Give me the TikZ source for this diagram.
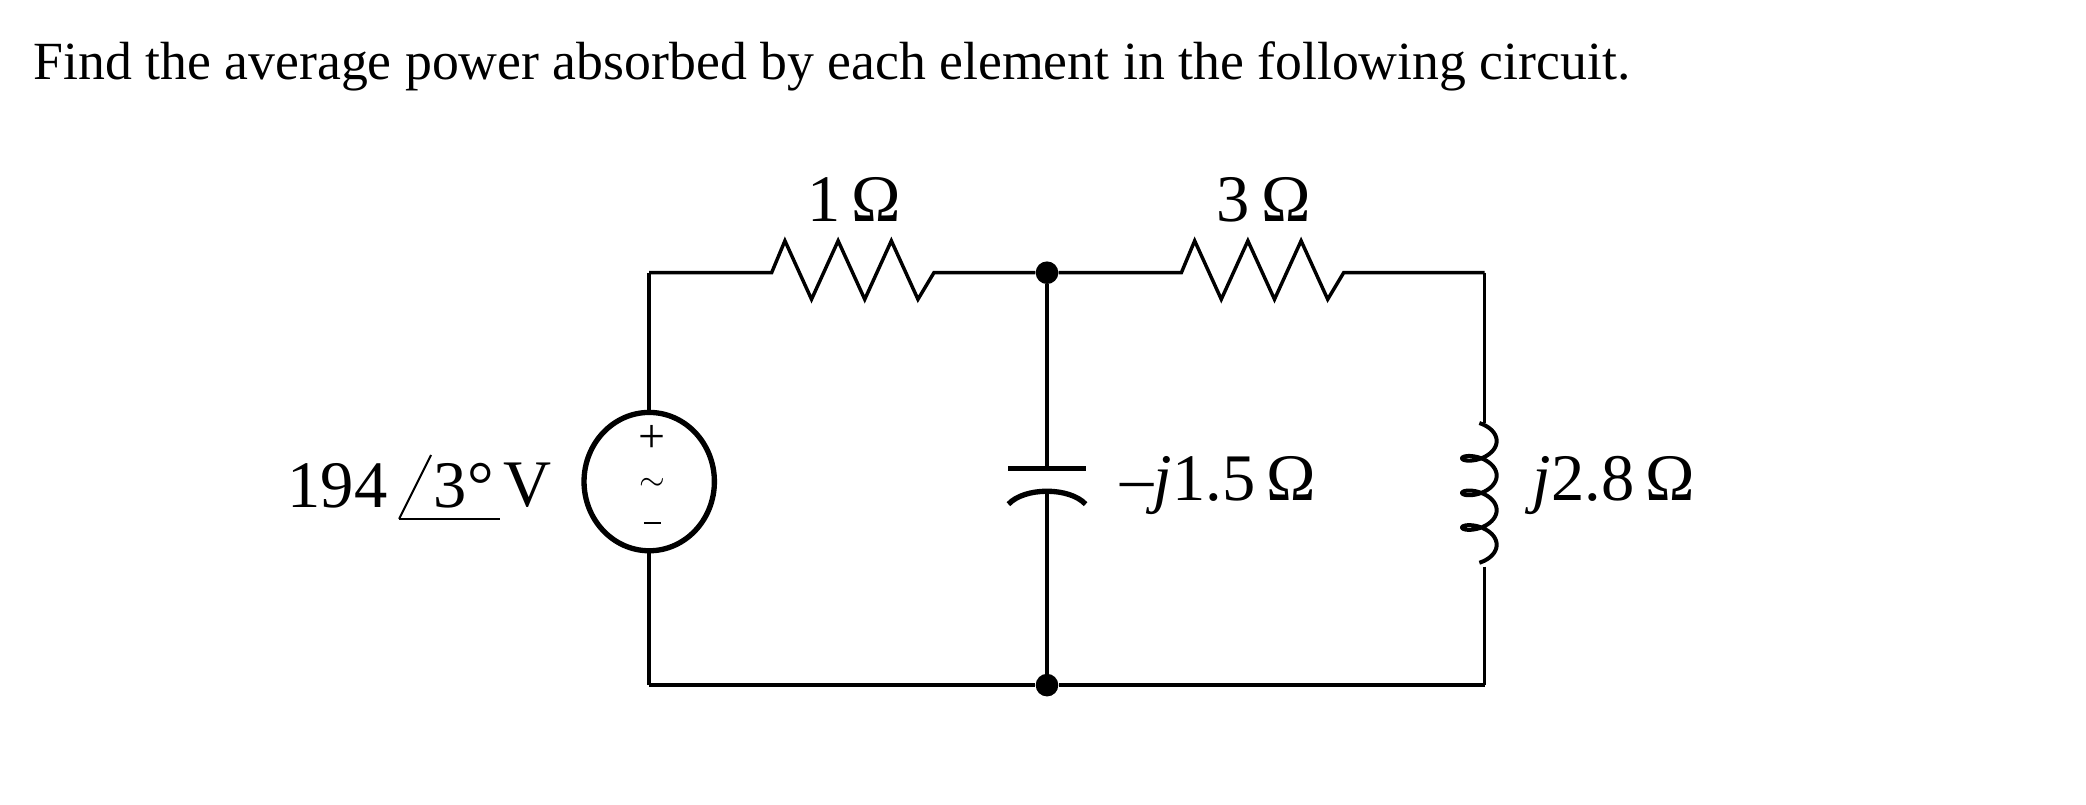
\documentclass[tikz,border=0pt]{standalone}
\usepackage{fontspec}
\setmainfont{Liberation Serif}
\usetikzlibrary{shapes.geometric}
\begin{document}
\begin{tikzpicture}[x=1pt,y=-1pt,
  wire/.style={line width=2.6pt},
  lbl/.style={inner sep=0pt,font=\fontsize{50}{56}\selectfont},
  dotn/.style={circle,fill,inner sep=0pt,minimum size=17pt}]
\useasboundingbox (0,0) rectangle (1568,605);
\node[anchor=base west,inner sep=0pt,font=\fontsize{40.4}{46}\selectfont] (title) at (25,60) {Find the average power absorbed by each element in the following circuit.};
% coordinates
\coordinate (tl) at (488,205); \coordinate (bl) at (488,515);
\coordinate (tr) at (1116,205); \coordinate (br) at (1116,515);
\node[dotn] (nt) at (787,205) {};
\node[dotn] (nb) at (787,515) {};
\coordinate (r1a) at (580,205); \coordinate (r1b) at (702,205);
\coordinate (r2a) at (888,205); \coordinate (r2b) at (1010,205);
% top wires and resistors
\draw[wire] (tl) -- (r1a) -- ++(10,-24) -- ++(20,44) -- ++(20,-44) -- ++(20,44) -- ++(20,-44) -- ++(20,44) -- (r1b) -- (nt);
\draw[wire] (nt) -- (r2a) -- ++(10,-24) -- ++(20,44) -- ++(20,-44) -- ++(20,44) -- ++(20,-44) -- ++(20,44) -- (r2b) -- (tr);
\node[lbl] (l1) at (642,150) {1\,Ω};
\node[lbl] (l3) at (950,150) {3\,Ω};
% source
\node[draw,ellipse,line width=4pt,minimum width=98pt,minimum height=104pt,inner sep=0pt] (src) at (488,362) {};
\draw[wire] (tl) -- (src.north);
\draw[wire] (src.south) -- (bl);
\node[inner sep=0pt,font=\fontsize{36}{36}\selectfont] (plus) at (490,330) {+};
\node[inner sep=0pt] (tilde) at (490,364) {\fontsize{34}{34}\selectfont$\sim$};
\draw[line width=1.8pt] (484,393) -- (497,393);
\node[lbl,anchor=west] (v194) at (216,365) {194};
\node[lbl,anchor=west] (v3) at (326,365) {3°};
\node[lbl,anchor=west] (vV) at (378,365) {V};
\draw[line width=1.5pt] (300,390) -- (324,342);
\draw[line width=1.5pt] (300,390) -- (376,390);
% capacitor
\draw[wire] (nt) -- (787,352);
\draw[line width=4pt] (758,352) -- (816,352);
\draw[line width=4pt] (758,379) .. controls (770,366) and (804,366) .. (816,379);
\draw[wire] (787,369) -- (nb);
\node[lbl,anchor=west] (lc) at (842,365) {–\textit{j}1.5\,Ω};
% inductor
\draw[wire] (tr) -- (1116,318);
\draw[line width=3pt] plot[domain=pi/2:15*pi/2,samples=240,smooth,variable=\t]
  ({1112-13*cos(\t r)},{318+26*(\t-pi/2)/(2*pi)-7*(sin(\t r)-1)});
\draw[wire] (1116,426) -- (br);
\node[lbl,anchor=west] (ll) at (1152,365) {\textit{j}2.8\,Ω};
% bottom
\draw[wire] (bl) -- (nb) -- (br);
\end{tikzpicture}
\end{document}
